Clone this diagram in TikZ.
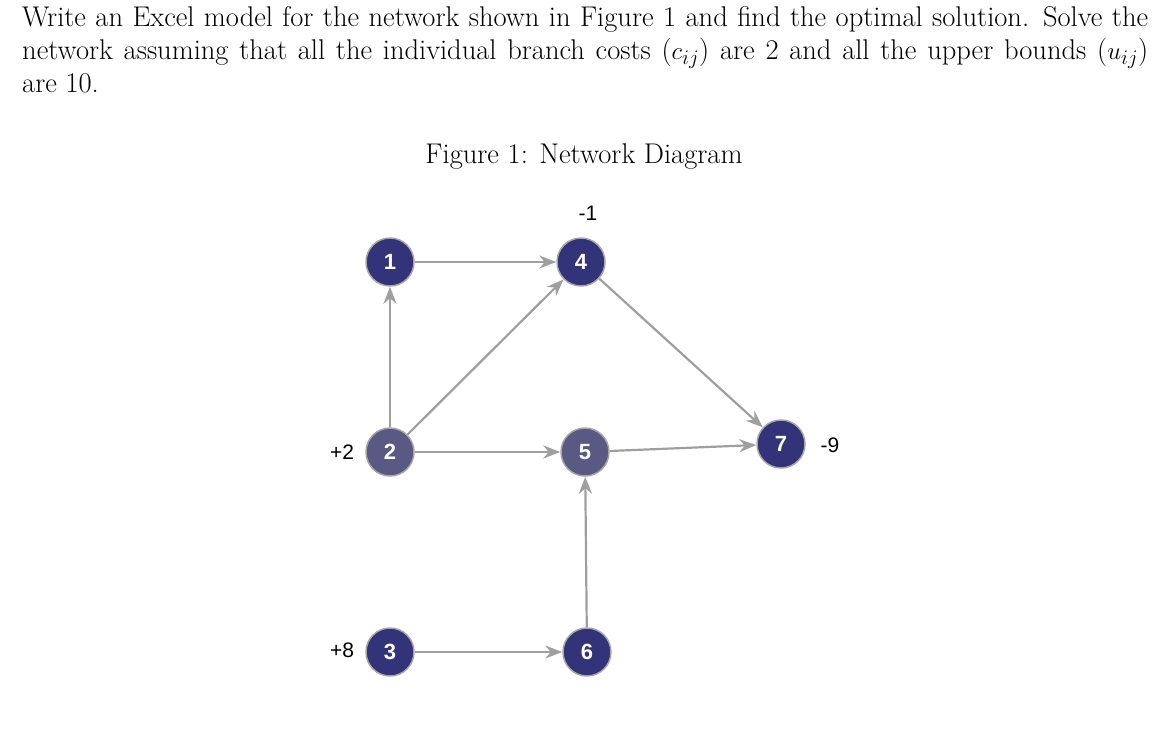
\documentclass[tikz,border=0pt]{standalone}
\usepackage{fontspec}
\newfontfamily\sansf{Liberation Sans}
\usetikzlibrary{arrows.meta}
\begin{document}
\begin{tikzpicture}[x=1pt,y=-1pt,
  nd/.style={circle,draw=gray!70,line width=1.5pt,fill=blue!35!black!80,minimum size=48pt,inner sep=0pt,text=white,font=\sansf\fontsize{22}{22}\selectfont\bfseries},
  ndl/.style={nd,fill=blue!25!black!65},
  lb/.style={font=\sansf\fontsize{21}{21}\selectfont},
  ar/.style={draw=gray!75,line width=2.2pt,-{Stealth[length=17pt,width=13pt]}}]
\useasboundingbox (0,0) rectangle (1172,736);
\node[anchor=north west,text width=1126pt,align=justify,inner sep=0pt,font=\fontsize{28.5}{33}\selectfont] (txt) at (22,6)
 {Write an Excel model for the network shown in Figure 1 and find the optimal solution. Solve the\linebreak network assuming that all the individual branch costs ($c_{ij}$) are 2 and all the upper bounds ($u_{ij}$)\linebreak are 10.};
\node[font=\fontsize{28.5}{30}\selectfont] (cap) at (584,157) {Figure 1: Network Diagram};
\node[nd] (n1) at (390,262) {1};
\node[nd] (n4) at (581,262) {4};
\node[ndl] (n2) at (390,452) {2};
\node[ndl] (n5) at (585,452) {5};
\node[nd] (n7) at (781,444) {7};
\node[nd] (n3) at (390,652) {3};
\node[nd] (n6) at (587,652) {6};
\node[lb] (l4) at (588,213) {-1};
\node[lb] (l2) at (342,452) {+2};
\node[lb] (l7) at (830,445) {-9};
\node[lb] (l3) at (342,650) {+8};
\draw[ar] (n1) -- (n4);
\draw[ar] (n2) -- (n1);
\draw[ar] (n2) -- (n4);
\draw[ar] (n2) -- (n5);
\draw[ar] (n4) -- (n7);
\draw[ar] (n5) -- (n7);
\draw[ar] (n6) -- (n5);
\draw[ar] (n3) -- (n6);
\end{tikzpicture}
\end{document}
